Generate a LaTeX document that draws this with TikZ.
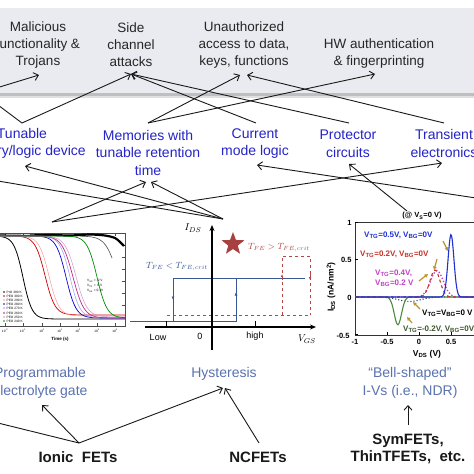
\documentclass[tikz,border=0pt]{standalone}
\usepackage{fontspec}
\setmainfont{Liberation Sans}
\usetikzlibrary{arrows.meta,shapes.geometric}
\definecolor{boxfill}{HTML}{E9EBF0}
\definecolor{midblue}{HTML}{2424C8}
\definecolor{lblblue}{HTML}{5A72B0}
\definecolor{hysblue}{HTML}{3A5796}
\definecolor{hysred}{HTML}{B5474A}
\definecolor{starred}{HTML}{A8403F}
\definecolor{goldarr}{HTML}{B8962E}
\definecolor{pblue}{HTML}{2030D0}
\definecolor{pred}{HTML}{C8302A}
\definecolor{pmag}{HTML}{C040C8}
\definecolor{pgreen}{HTML}{4C8C3C}
\definecolor{pgreentxt}{HTML}{3E5530}
\definecolor{pnavy}{HTML}{283C8C}
\newcommand\sbs[1]{\textsubscript{#1}}
\tikzset{
  toptext/.style={font=\fontsize{13.5}{17}\selectfont, align=center, text=black!85},
  midtext/.style={font=\fontsize{14}{17.5}\selectfont, align=center, text=midblue},
  lbltext/.style={font=\fontsize{14}{18}\selectfont, align=center, text=lblblue},
  devtext/.style={font=\fontsize{15}{17}\selectfont\bfseries, align=center, text=black!90},
  arr/.style={-{Straight Barb[length=4.5pt,width=8pt]}, line width=0.9pt, black!90},
  link/.style={line width=0.9pt, black!90},
  garr/.style={-{Triangle[length=3.5pt,width=3.5pt]}, line width=1.2pt, goldarr},
  tick/.style={font=\fontsize{7.5}{8}\selectfont\bfseries},
  tiny/.style={font=\fontsize{3.2}{3.6}\selectfont, inner sep=0pt}
}
\begin{document}
\begin{tikzpicture}[x=1pt,y=-1pt]
\useasboundingbox (0,0) rectangle (474,474);
\fill[white] (0,0) rectangle (474,474);
\clip (0,0) rectangle (474,474);

% ---------- top band ----------
\fill[black!25] (-5,92) rectangle (480,96);
\fill[black!12] (-5,96) rectangle (480,98);
\fill[boxfill] (-5,8) rectangle (480,93);

\node[toptext] (mal)  at (38,45)  {Malicious\\functionality \&\\Trojans};
\node[toptext] (side) at (131,45) {Side\\channel\\attacks};
\node[toptext] (unau) at (244,45) {Unauthorized\\access to data,\\keys, functions};
\node[toptext] (hw)   at (379,53.5) {HW authentication\\\& fingerprinting};

% ---------- middle row ----------
\node[midtext] (tun) at (22,143.5) {Tunable\\memory/logic device};
\node[midtext] (mem) at (148,152.5) {Memories with\\tunable retention\\time};
\node[midtext] (cur) at (255,143.5) {Current\\mode logic};
\node[midtext] (pro) at (348,143.5) {Protector\\circuits};
\node[midtext] (tra) at (444,143.5) {Transient\\electronics};

% ---------- bottom labels ----------
\node[lbltext] (prog) at (40,383) {Programmable\\electrolyte gate};
\node[lbltext] (hys)  at (224,374) {Hysteresis};
\node[lbltext] (bell) at (410,383) {“Bell-shaped”\\I-Vs (i.e., NDR)};

\node[devtext] (ion) at (78,457) {Ionic\ \ FETs};
\node[devtext] (ncf) at (258,457) {NCFETs};
\node[devtext] (sym) at (408,448.5) {SymFETs,\\ThinTFETs,\ \ etc.};

% ---------- connector points ----------
\coordinate (tMal) at (39,75);
\coordinate (tSide) at (131,74);
\coordinate (tUnA) at (240,75);
\coordinate (tUnB) at (247,75);
\coordinate (tHW) at (375,74);
\coordinate (aTun) at (22,123);
\coordinate (aMem) at (148,123);
\coordinate (aCur) at (256,123);
\coordinate (aPro) at (349,123);
\coordinate (aTra) at (444,123);
\coordinate (eL1) at (-2,87.5);
\coordinate (eL2) at (-2,105);

\coordinate (mTun) at (25,166);
\coordinate (mMemA) at (146,182);
\coordinate (mMemB) at (151,182);
\coordinate (mCur) at (257,165);
\coordinate (mPro) at (349,164);
\coordinate (mTra) at (442,163);
\coordinate (pIon) at (52,222);
\coordinate (pHys) at (223,219);
\coordinate (pSym) at (407,211);
\coordinate (eL3) at (-2,181);
\coordinate (eR1) at (476,198);

\coordinate (bIon) at (79,443);
\coordinate (bProg) at (42,405);
\coordinate (bHysA) at (223,388);
\coordinate (bHysB) at (225,388);
\coordinate (eL4) at (-2,423);
\coordinate (bNC) at (259,443);
\coordinate (bSymS) at (408,425);
\coordinate (bSymT) at (408,405);

% top connectors
\draw[arr] (eL1) -- (tMal);
\draw[link] (eL2) -- (aTun);
\draw[arr] (aTun) -- (tSide);
\draw[arr] (aMem) -- (tUnA);
\draw[arr] (aMem) -- (tHW);
\draw[arr] (aCur) -- (tSide);
\draw[arr] (aPro) -- (tSide);
\draw[arr] (aTra) -- (tUnB);

% middle connectors
\draw[arr] (pHys) -- (mTun);
\draw[arr] (pHys) -- (mMemB);
\draw[link] (eL3) -- (pHys);
\draw[arr] (pIon) -- (mMemA);
\draw[arr] (pIon) -- (mTra);
\draw[arr] (eR1) -- (mCur);
\draw[arr] (pSym) -- (mPro);

% bottom connectors
\draw[arr] (bIon) -- (bProg);
\draw[arr] (bIon) -- (bHysA);
\draw[link] (bIon) -- (eL4);
\draw[arr] (bNC) -- (bHysB);
\draw[arr] (bSymS) -- (bSymT);

% ---------- Ionic FET plot ----------
\draw[black!70, line width=0.5pt] (-5,233) rectangle (125,326);
\foreach \t in {5,23,42,60,78,97,115}{
  \draw[black!70, line width=0.3pt] (\t,326) -- (\t,323);
  \draw[black!70, line width=0.3pt] (\t,233) -- (\t,236);
}
\foreach \t in {245,257,269,281,293,305,317}{
  \draw[black!70, line width=0.3pt] (125,\t) -- (122,\t);
}
\foreach \t/\e in {5/-2,23/-1,42/0,60/1,78/2,97/3,115/4}{
  \node[tiny] at (\t,331) {10\textsuperscript{\e}};
}
\node[font=\fontsize{4.5}{5}\selectfont\bfseries, inner sep=0pt] (timelbl) at (60,339) {Time (s)};
\draw[black, line width=2.2pt] plot[smooth] coordinates {(30,235.5) (50,235) (70,235.5) (90,234.5) (105,235.5) (115,238) (120,242) (124,246)};
\draw[black, line width=1.2pt] plot[smooth] coordinates {(0,235) (30,235.5)};
\draw[black!70!white, line width=0.6pt, domain=80:112, samples=30] plot (\x,{236+82/(1+exp(-max(min((\x-118)/6,9),-9)))});
\draw[black, line width=0.8pt, domain=-5:125, samples=70] plot (\x,{236+83/(1+exp(-max(min((\x-23)/4.5,9),-9)))});
\draw[red!80!black, line width=0.7pt, domain=-5:125, samples=70] plot (\x,{236+79/(1+exp(-max(min((\x-45)/5,9),-9)))});
\draw[red!40, line width=0.5pt, domain=-5:125, samples=70] plot (\x,{236+80/(1+exp(-max(min((\x-49)/5,9),-9)))});
\draw[blue!80!black, line width=0.7pt, domain=-5:125, samples=70] plot (\x,{236+82/(1+exp(-max(min((\x-66)/5,9),-9)))});
\draw[blue!40, line width=0.5pt, domain=-5:125, samples=70] plot (\x,{236+82/(1+exp(-max(min((\x-70)/5,9),-9)))});
\draw[magenta!80!black, line width=0.7pt, domain=-5:125, samples=70] plot (\x,{236+82/(1+exp(-max(min((\x-73)/5.5,9),-9)))});
\draw[violet!40, line width=0.5pt, domain=-5:125, samples=70] plot (\x,{236+81/(1+exp(-max(min((\x-76)/5.5,9),-9)))});
\draw[green!55!black, line width=0.7pt, domain=-5:125, samples=70] plot (\x,{236+82/(1+exp(-max(min((\x-97)/5,9),-9)))});
% legend
\foreach \y/\c/\tx in {292/black/PrO 300 K,296/red!80!black/PEO 300 K,300/red!40/PEO 290 K,304/blue!80!black/PEO 280 K,308/blue!40/PEO 270 K,313/magenta/PEO 260 K,317/violet!40/PEO 250 K,321/green!55!black/PEO 240 K}{
  \fill[\c] (4,\y) circle (0.9);
  \node[tiny, anchor=west] at (6.5,\y) {\tx};
}
\node[tiny, anchor=west] at (87,281) {V\sbs{GS} = -2 V};
\node[tiny, anchor=west] at (87,286) {V\sbs{TG} = \ 0 V};
\node[tiny, anchor=west] at (87,291) {V\sbs{DS} = 0.1V};

% ---------- Hysteresis plot ----------
\draw[hysblue, line width=1pt] (130,321) -- (236,321) -- (236,278);
\draw[hysblue, line width=1pt] (173,321) -- (173,278) -- (305,278);
\draw[hysblue, -{Latex[length=3.5pt,width=3pt]}, line width=1pt] (173,290) -- (173,300);
\draw[hysblue, -{Latex[length=3.5pt,width=3pt]}, line width=1pt] (236,302) -- (236,292);
\draw[hysred, dashed, line width=1pt] (167,315) -- (310,315);
\draw[hysred, dashed, line width=1pt] (282,315) -- (282,256) -- (310,256) -- (310,315);
\draw[hysred, -{Latex[length=3pt,width=2.5pt]}, line width=1pt] (282,280) -- (282,274);
\draw[hysred, -{Latex[length=3pt,width=2.5pt]}, line width=1pt] (310,274) -- (310,280);
\draw[black, line width=1.1pt, -{Stealth[length=6pt,width=5pt]}] (212,350) -- (212,225);
\draw[black, line width=1.1pt, -{Stealth[length=6pt,width=5pt]}] (145,327) -- (316,327);
\draw[black, line width=0.8pt] (166,321) -- (166,327);
\draw[black, line width=0.8pt] (255,321) -- (255,327);
\node[font=\fontsize{9}{10}\selectfont] (low) at (158,337) {Low};
\node[font=\fontsize{9}{10}\selectfont] (zero) at (200,336) {0};
\node[font=\fontsize{9}{10}\selectfont] (high) at (255,336) {high};
\node[font=\fontsize{10}{11}\selectfont] (vgs) at (307,339) {$V_{GS}$};
\node[font=\fontsize{10}{11}\selectfont] (ids) at (193,228) {$I_{DS}$};
\node[star, star points=5, star point ratio=2.4, fill=starred, minimum size=24pt, inner sep=0pt] (starnode) at (233,244) {};
\node[font=\fontsize{9}{10}\selectfont, text=hysred] (tgt) at (279,248) {$T_{FE}>T_{FE,crit}$};
\node[font=\fontsize{9}{10}\selectfont, text=hysblue] (tlt) at (177,267) {$T_{FE}<T_{FE,crit}$};

% ---------- SymFET plot ----------
\node[font=\fontsize{7.5}{8}\selectfont\bfseries] (vs0) at (422,216) {(@ V\sbs{S}=0 V)};
\draw[black!80, line width=0.9pt] (490,222) -- (355,222) -- (355,335) -- (490,335);
\foreach \v in {1,0.5,0,-0.5}{ \draw[line width=0.5pt] (355,{297-75*\v}) -- (358,{297-75*\v}); }
\foreach \v in {-0.5,0,0.5}{ \draw[line width=0.5pt] ({419+64*\v},335) -- ({419+64*\v},332); }
\node[tick, anchor=east] at (355,223) {1};
\node[tick, anchor=east] at (355,260) {0.5};
\node[tick, anchor=east] at (355,298) {0};
\node[tick, anchor=east] at (353,336) {-0.5};
\node[tick] at (355,342) {-1};
\node[tick] at (387,342) {-0.5};
\node[tick] at (419,342) {0};
\node[tick] at (451,342) {0.5};
\node[font=\fontsize{8.5}{9}\selectfont\bfseries] (vds) at (427,354) {V\sbs{DS} (V)};
\node[font=\fontsize{8.5}{9}\selectfont\bfseries, rotate=90] (idsr) at (331,287) {I\sbs{DS} (nA/nm\textsuperscript{2})};

\draw[pnavy, dotted, line width=1.1pt, domain=355:474, samples=80] plot (\x,{297+75*0.06*exp(-min(((\x-419)/64+0.15)^2/0.06,20))});
\draw[pgreen, line width=1.1pt, domain=355:474, samples=120] plot (\x,{297+75*0.37*exp(-min(((\x-419)/64+0.33)^2/0.0064,20))});
\draw[pmag, dotted, line width=1.3pt, domain=355:474, samples=120] plot (\x,{297-75*0.35*exp(-min(((\x-419)/64-0.28)^2/0.02,20))});
\draw[pred, dashed, line width=1.1pt, domain=355:474, samples=120] plot (\x,{297-75*0.36*exp(-min(((\x-419)/64-0.25)^2/0.012,20))});
\draw[pblue, line width=1.1pt, domain=355:474, samples=160] plot (\x,{297-75*0.83*exp(-min(((\x-419)/64-0.5)^2/0.0042,20))});

\node[font=\fontsize{8}{9}\selectfont\bfseries, text=pblue, anchor=west, inner sep=0pt] (l1) at (364,235) {V\sbs{TG}=0.5V, V\sbs{BG}=0V};
\node[font=\fontsize{8}{9}\selectfont\bfseries, text=pred, anchor=west, inner sep=0pt] (l2) at (360,254) {V\sbs{TG}=0.2V, V\sbs{BG}=0V};
\node[font=\fontsize{8}{10}\selectfont\bfseries, text=pmag, anchor=west, align=left, inner sep=0pt] (l3) at (375,278) {V\sbs{TG}=0.4V,\\V\sbs{BG}=0.2 V};
\node[font=\fontsize{8}{9}\selectfont\bfseries, text=black, anchor=west, inner sep=0pt] (l4) at (422,313) {V\sbs{TG}=V\sbs{BG}=0 V};
\node[font=\fontsize{8}{9}\selectfont\bfseries, text=pgreentxt, anchor=west, inner sep=0pt] (l5) at (403,329) {V\sbs{TG}=-0.2V, V\sbs{BG}=0V};
\draw[garr] (443,241) -- (448,251);
\draw[garr] (437,259) -- (434,270);
\draw[garr] (419,281) -- (428,274);
\draw[garr] (420,309) -- (413,302);
\draw[garr] (412,323) -- (407,317);
\end{tikzpicture}
\end{document}
